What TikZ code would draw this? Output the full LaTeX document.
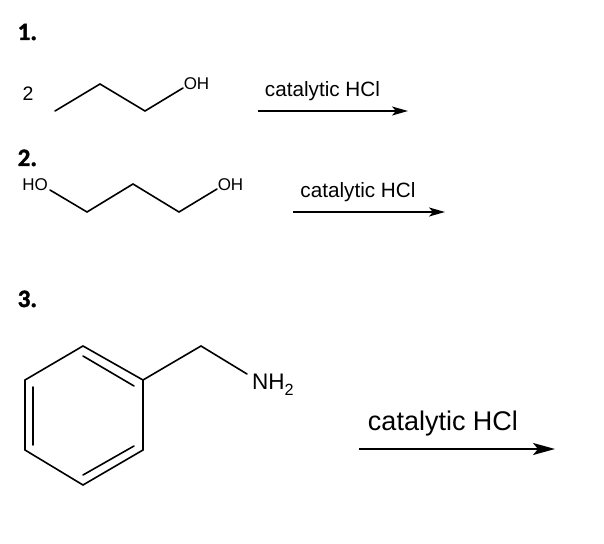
\documentclass[tikz,border=0pt]{standalone}
\usepackage{fontspec}
\setmainfont{Liberation Sans}
\newfontfamily\numfont[BoldFont={Carlito Bold},BoldFeatures={FakeBold=1.5}]{Carlito}
\usetikzlibrary{arrows.meta}
\newcommand{\chemsub}[1]{\raisebox{-0.25em}{\scalebox{0.72}{#1}}}
\tikzset{
  x=1bp,y=-1bp,
  bondline/.style={line width=1.6bp,line cap=round,line join=miter,black},
  rxnarrow/.style={line width=1.6bp,-{Stealth[length=16bp,width=9bp,inset=4bp]},black},
  rxnarrowbig/.style={line width=1.8bp,-{Stealth[length=22bp,width=12bp,inset=5bp]},black},
  heading/.style={inner sep=0pt,anchor=base west,font=\numfont\bfseries\fontsize{25bp}{25bp}\selectfont},
  atomlabel/.style={inner sep=0pt,font=\fontsize{17bp}{18bp}\selectfont},
  catA/.style={inner sep=0pt,font=\fontsize{20.7bp}{22bp}\selectfont},
  catB/.style={inner sep=0pt,font=\fontsize{27bp}{28bp}\selectfont},
}
\begin{document}
\begin{tikzpicture}
\useasboundingbox (0,0) rectangle (604,544);
% headings
\node[heading] (h1) at (17.5,40) {1.};
\node[heading] (h2) at (17.5,166) {2.};
\node[heading] (h3) at (17.5,307) {3.};
% reaction 1
\node[atomlabel,font=\fontsize{19.5bp}{20bp}\selectfont] (two) at (28,93.5) {2};
\node[atomlabel] (oh1) at (196.5,84) {OH};
\coordinate (a1) at (55,111);
\coordinate (a2) at (100,84);
\coordinate (a3) at (145,111);
\coordinate (a4) at (183,88);
\draw[bondline] (a1) -- (a2) -- (a3) -- (a4);
\node[catA] (c1) at (322.5,91.5) {catalytic HCl};
\coordinate (s1) at (258,111);
\coordinate (e1) at (408,111);
\draw[rxnarrow] (s1) -- (e1);
% reaction 2
\node[atomlabel] (ho2) at (35,185) {HO};
\node[atomlabel] (oh2) at (230.5,185) {OH};
\coordinate (b1) at (50,190);
\coordinate (b2) at (87,212);
\coordinate (b3) at (133,184);
\coordinate (b4) at (179,212);
\coordinate (b5) at (217,189);
\draw[bondline] (b1) -- (b2) -- (b3) -- (b4) -- (b5);
\node[catA] (c2) at (358,192) {catalytic HCl};
\coordinate (s2) at (293,212);
\coordinate (e2) at (445,212);
\draw[rxnarrow] (s2) -- (e2);
% reaction 3
\coordinate (r1) at (83,346);
\coordinate (r2) at (143,380);
\coordinate (r3) at (143,450);
\coordinate (r4) at (83,485);
\coordinate (r5) at (25,450);
\coordinate (r6) at (25,380);
\draw[bondline] (r1) -- (r2) -- (r3) -- (r4) -- (r5) -- (r6) -- cycle;
\coordinate (i1) at (83,356);
\coordinate (i2) at (134,386);
\coordinate (i3) at (134,446);
\coordinate (i4) at (83,475);
\coordinate (i5) at (33,445);
\coordinate (i6) at (33,387);
\draw[bondline] (i1) -- (i2);
\draw[bondline] (i3) -- (i4);
\draw[bondline] (i5) -- (i6);
\coordinate (ch) at (201,346);
\coordinate (nend) at (247,374);
\draw[bondline] (r2) -- (ch) -- (nend);
\node[inner sep=0pt,anchor=base west,font=\fontsize{22.5bp}{24bp}\selectfont] (nh2) at (252,389.5) {NH\chemsub{2}};
\node[catB] (c3) at (443,424) {catalytic HCl};
\coordinate (s3) at (359,449);
\coordinate (e3) at (555,449);
\draw[rxnarrowbig] (s3) -- (e3);
\end{tikzpicture}
\end{document}
